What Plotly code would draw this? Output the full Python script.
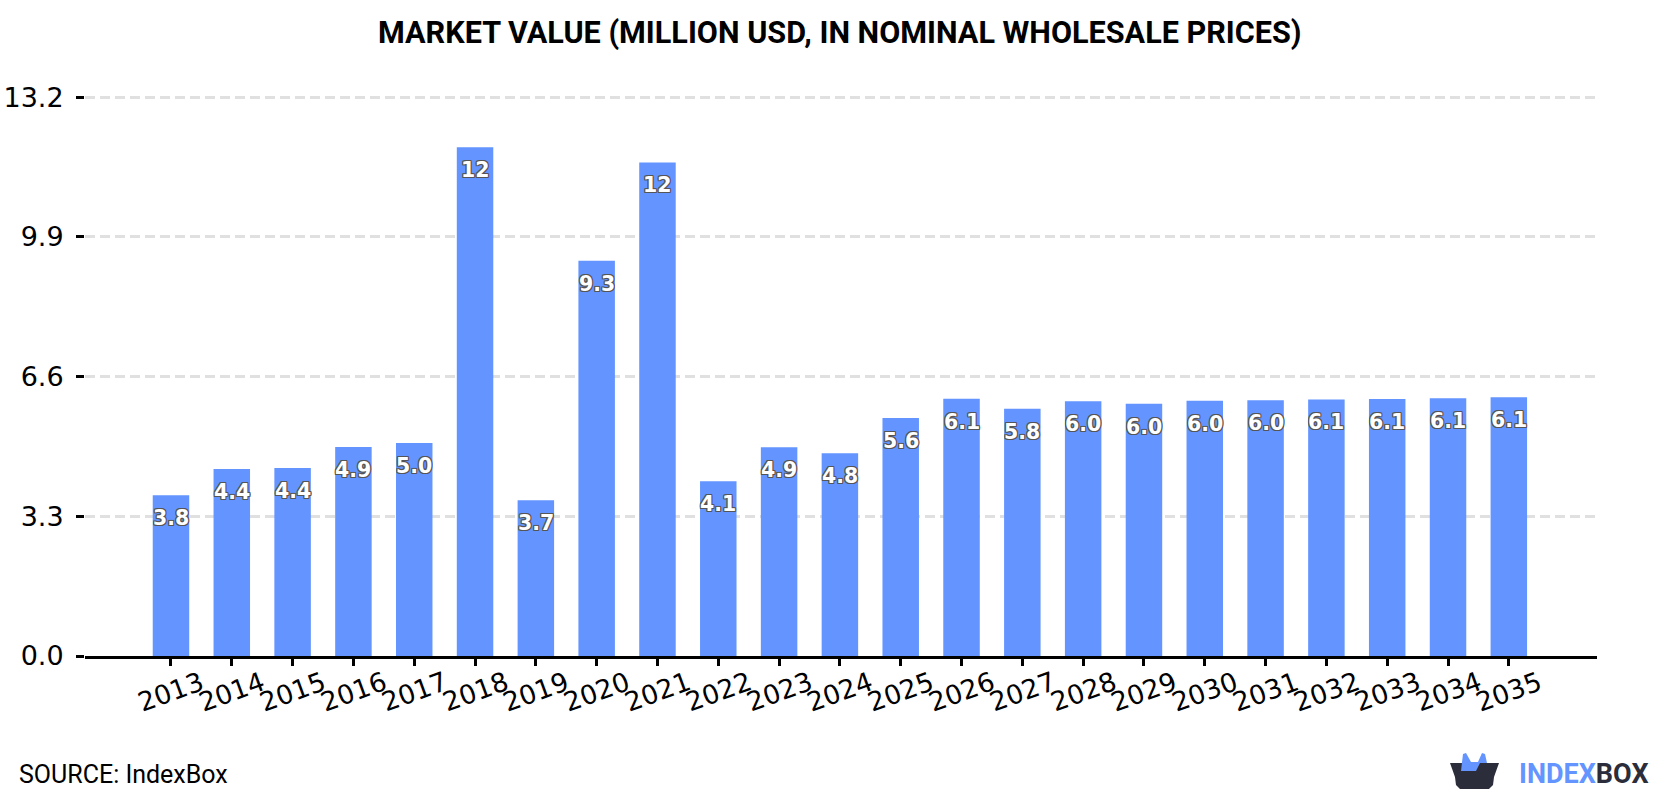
import plotly.graph_objects as go

years = [str(y) for y in range(2013, 2036)]
market_value = [3.80, 4.42, 4.44, 4.94, 5.03, 12.02, 3.68, 9.34, 11.66, 4.13, 4.93, 4.79,
                5.62, 6.08, 5.84, 6.02, 5.96, 6.03, 6.04, 6.06, 6.07, 6.09, 6.11]
y_ticks = [0.0, 3.3, 6.6, 9.9, 13.2]

TITLE = "MARKET VALUE (MILLION USD, IN NOMINAL WHOLESALE PRICES)"
SOURCE = "SOURCE: IndexBox"
BLUE = "#6394ff"
DARK = "#2b2d3a"
W, H = 1680, 800
ML, MR, MT, MB = 85, 83, 92.5, 144
PW, PH = W - ML - MR, H - MT - MB


def label(v):
    return f"{v:.0f}" if v >= 10 else f"{v:.1f}"


def px(x):
    return (x - ML) / PW


def py(y):
    return 1 - (y - MT) / PH


def path(points):
    """Closed SVG path in paper coordinates from page pixel positions."""
    return "M" + " L".join(f"{px(x):.5f},{py(y):.5f}" for x, y in points) + " Z"


OUTLINE = ",".join(f"{dx}px {dy}px 0 #555" for dx in (-1, 0, 1) for dy in (-1, 0, 1) if dx or dy)

fig = go.Figure(go.Bar(x=list(range(len(years))), y=market_value, marker_color=BLUE,
                       marker_line_width=0, width=0.6))

annotations = []
for i, (yr, v) in enumerate(zip(years, market_value)):
    # Value caption a fixed distance below the bar top
    annotations.append(dict(x=i, y=v, xref="x", yref="y", text=label(v), showarrow=False, yshift=-23,
                            xanchor="center", yanchor="middle",
                            font=dict(family="DejaVu Sans", size=20.5, color="white", weight="bold",
                                      shadow=OUTLINE)))
    # Year label rotated about its own centre under the tick
    annotations.append(dict(x=i, y=py(692), xref="x", yref="paper", text=yr, showarrow=False,
                            xanchor="center", yanchor="middle",
                            textangle=-20, font=dict(family="DejaVu Sans", size=26.5, color="#000")))

annotations += [
    dict(x=px(840), y=py(32), xref="paper", yref="paper", text=TITLE, showarrow=False,
         xanchor="center", yanchor="middle",
         font=dict(family="Roboto", size=30.6, color="#000", weight="bold")),
    dict(x=px(17), y=py(775), xref="paper", yref="paper", xanchor="left", yanchor="middle", text=SOURCE,
         showarrow=False, font=dict(family="Roboto", size=25, color="#000")),
    dict(x=px(1517), y=py(774), xref="paper", yref="paper", xanchor="left", yanchor="middle", showarrow=False,
         text=f'<span style="color:{BLUE}">INDEX</span><span style="color:{DARK}">BOX</span>',
         font=dict(family="Roboto", size=27, weight="bold")),
]

# Logo: dark box with a blue crown rising out of it
shapes = [
    dict(type="path", xref="paper", yref="paper", fillcolor=DARK, line_width=0,
         path=path([(1450, 763), (1499, 763), (1494, 777), (1493, 785), (1489, 789),
                    (1460, 789), (1456, 785), (1455, 777)])),
    dict(type="path", xref="paper", yref="paper", fillcolor=BLUE, line_width=0,
         path=path([(1461, 771), (1463, 754), (1466, 753), (1471, 762), (1478, 762),
                    (1482, 753), (1485, 754), (1487, 763), (1480, 763), (1476, 771)])),
]

fig.update_layout(
    width=W, height=H,
    margin=dict(l=ML, r=MR, t=MT, b=MB, pad=0),
    paper_bgcolor="white", plot_bgcolor="white",
    showlegend=False, annotations=annotations, shapes=shapes,
    font=dict(family="DejaVu Sans", color="#000"),
)
fig.update_xaxes(
    automargin=False,
    range=[-1.414, 23.45], tickvals=list(range(len(years))), showticklabels=False,
    showgrid=False, zeroline=False, showline=True, linecolor="#000", linewidth=3,
    ticks="outside", ticklen=7, tickwidth=3, tickcolor="#000",
)
fig.update_yaxes(
    automargin=False,
    range=[0, 13.3], tickvals=y_ticks, ticktext=[f"{t:.1f}" for t in y_ticks],
    tickfont=dict(family="DejaVu Sans", size=27),
    showline=False, zeroline=False,
    showgrid=True, gridcolor="#e0e0e0", gridwidth=2.5, griddash="10px,5px",
    ticks="outside", ticklen=8, tickwidth=3, tickcolor="#000", ticklabelstandoff=7,
)

fig.write_html("out.html")
